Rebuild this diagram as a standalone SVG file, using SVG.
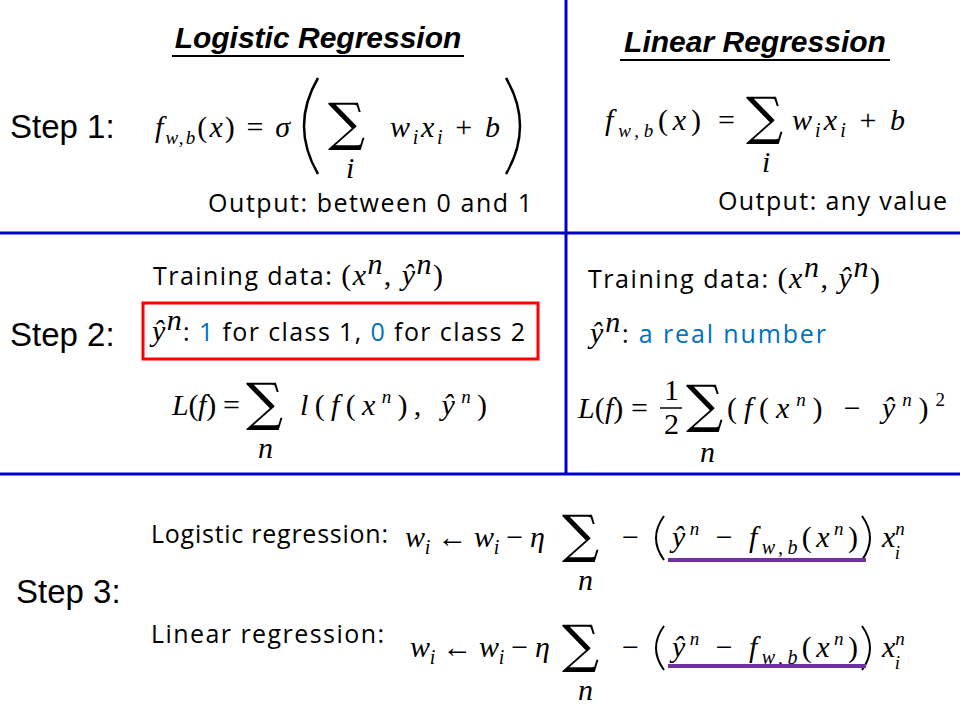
<svg xmlns="http://www.w3.org/2000/svg" width="960" height="720" viewBox="0 0 960 720">
<style>
.s{font-family:"Liberation Sans",Arial,sans-serif;font-size:33px;fill:#000}
.t{font-family:"Open Sans","Liberation Sans",sans-serif;font-size:25px;fill:#000}
.h{font-family:"Liberation Sans",Arial,sans-serif;font-size:30px;font-weight:bold;font-style:italic;fill:#000}
.m{font-family:"Liberation Serif","Times New Roman",serif;font-size:30px;font-style:italic;fill:#000}
.mu{font-family:"Liberation Serif","Times New Roman",serif;font-size:30px;fill:#000}
.sig{font-family:"DejaVu Serif",serif;font-size:52px;fill:#000}
.b{fill:#0070c0}
.ln{stroke:#0000cc;stroke-width:3}
.ul{stroke:#7030a0;stroke-width:4}
</style>
<g id="connectors">
<line class="ln" x1="566" y1="0" x2="566" y2="474"/>
<line class="ln" x1="0" y1="233" x2="960" y2="233"/>
<line class="ln" x1="0" y1="474" x2="960" y2="474"/>
</g>
<g id="headers">
<text class="h" x="318" y="48" text-anchor="middle">Logistic Regression</text>
<line x1="172" y1="56" x2="464" y2="56" stroke="#000" stroke-width="2"/>
<text class="h" x="755" y="52" text-anchor="middle">Linear Regression</text>
<line x1="620" y1="60" x2="890" y2="60" stroke="#000" stroke-width="2"/>
</g>
<g id="step1">
<text class="s" x="10" y="138">Step 1:</text>
<text class="m" x="155" y="137" textLength="135" lengthAdjust="spacing">f<tspan font-size="19" dy="7">w,b</tspan><tspan dy="-7" font-style="normal">(</tspan>x<tspan font-style="normal">) = </tspan>σ</text>
<path d="M318,78 Q290,126 318,174" fill="none" stroke="#000" stroke-width="2.5"/>
<text class="sig" x="328" y="140">∑</text>
<text class="m" x="346" y="178" font-size="24">i</text>
<text class="m" x="390" y="137" textLength="110" lengthAdjust="spacing">w<tspan font-size="20" dy="7">i</tspan><tspan dy="-7">x</tspan><tspan font-size="20" dy="7">i</tspan><tspan dy="-7" font-style="normal"> + </tspan>b</text>
<path d="M506,78 Q534,126 506,174" fill="none" stroke="#000" stroke-width="2.5"/>
<text class="t" x="208" y="212" textLength="324" lengthAdjust="spacing">Output: between 0 and 1</text>
<text class="m" x="605" y="130" textLength="130" lengthAdjust="spacing">f<tspan font-size="19" dy="7">w,b</tspan><tspan dy="-7" font-style="normal">(</tspan>x<tspan font-style="normal">) =</tspan></text>
<text class="sig" x="746" y="134">∑</text>
<text class="m" x="762" y="172" font-size="24">i</text>
<text class="m" x="792" y="130" textLength="113" lengthAdjust="spacing">w<tspan font-size="20" dy="7">i</tspan><tspan dy="-7">x</tspan><tspan font-size="20" dy="7">i</tspan><tspan dy="-7" font-style="normal"> + </tspan>b</text>
<text class="t" x="718" y="210" textLength="229" lengthAdjust="spacing">Output: any value</text>
</g>
<g id="step2">
<text class="s" x="10" y="346">Step 2:</text>
<text class="t" x="153" y="285" textLength="290" lengthAdjust="spacing">Training data: <tspan class="mu" font-size="28">(</tspan><tspan class="m" font-size="28">x</tspan><tspan class="m" font-size="18" dy="-11">n</tspan><tspan class="mu" font-size="28" dy="11">, </tspan><tspan class="m" font-size="28">ŷ</tspan><tspan class="m" font-size="18" dy="-11">n</tspan><tspan class="mu" font-size="28" dy="11">)</tspan></text>
<rect x="143" y="303" width="395" height="56" fill="none" stroke="#ff0000" stroke-width="3"/>
<text class="t" x="152" y="341" textLength="373" lengthAdjust="spacing"><tspan class="m" font-size="28">ŷ</tspan><tspan class="m" font-size="18" dy="-11">n</tspan><tspan dy="11">: </tspan><tspan class="b">1</tspan> for class 1, <tspan class="b">0</tspan> for class 2</text>
<text class="m" x="172" y="415" textLength="68" lengthAdjust="spacing">L<tspan font-style="normal">(</tspan>f<tspan font-style="normal">) =</tspan></text>
<text class="sig" x="246" y="420">∑</text>
<text class="m" x="258" y="458" font-size="24">n</text>
<text class="m" x="300" y="415" textLength="187" lengthAdjust="spacing">l<tspan font-style="normal">(</tspan>f<tspan font-style="normal">(</tspan>x<tspan font-size="19" dy="-12">n</tspan><tspan font-style="normal" dy="12">), </tspan>ŷ<tspan font-size="19" dy="-12">n</tspan><tspan font-style="normal" dy="12">)</tspan></text>
<text class="t" x="588" y="288" textLength="292" lengthAdjust="spacing">Training data: <tspan class="mu" font-size="28">(</tspan><tspan class="m" font-size="28">x</tspan><tspan class="m" font-size="18" dy="-11">n</tspan><tspan class="mu" font-size="28" dy="11">, </tspan><tspan class="m" font-size="28">ŷ</tspan><tspan class="m" font-size="18" dy="-11">n</tspan><tspan class="mu" font-size="28" dy="11">)</tspan></text>
<text class="t" x="590" y="343" textLength="236" lengthAdjust="spacing"><tspan class="m" font-size="28">ŷ</tspan><tspan class="m" font-size="18" dy="-11">n</tspan><tspan dy="11">: </tspan><tspan class="b">a real number</tspan></text>
<text class="m" x="578" y="418" textLength="70" lengthAdjust="spacing">L<tspan font-style="normal">(</tspan>f<tspan font-style="normal">) =</tspan></text>
<text class="mu" x="664" y="400" font-size="25">1</text>
<line x1="660" y1="408" x2="682" y2="408" stroke="#000" stroke-width="1.5"/>
<text class="mu" x="664" y="434" font-size="25">2</text>
<text class="sig" x="686" y="422">∑</text>
<text class="m" x="700" y="462" font-size="24">n</text>
<text class="m" x="727" y="418" textLength="218" lengthAdjust="spacing"><tspan font-style="normal">(</tspan>f<tspan font-style="normal">(</tspan>x<tspan font-size="19" dy="-12">n</tspan><tspan font-style="normal" dy="12">) − </tspan>ŷ<tspan font-size="19" dy="-12">n</tspan><tspan font-style="normal" dy="12">)</tspan><tspan font-style="normal" font-size="19" dy="-12">2</tspan></text>
</g>
<g id="step3">
<text class="s" x="16" y="603">Step 3:</text>
<text class="t" x="151" y="543" textLength="237" lengthAdjust="spacing">Logistic regression:</text>
<text class="m" x="405" y="547" textLength="140" lengthAdjust="spacing">w<tspan font-size="20" dy="7">i</tspan><tspan dy="-7" font-style="normal"> ← </tspan>w<tspan font-size="20" dy="7">i</tspan><tspan dy="-7" font-style="normal"> − </tspan>η</text>
<text class="sig" x="562" y="552">∑</text>
<text class="m" x="578" y="590" font-size="24">n</text>
<text class="mu" x="622" y="547">−</text>
<path d="M664,516 Q648,538 664,560" fill="none" stroke="#000" stroke-width="2"/>
<text class="m" x="672" y="547" textLength="186" lengthAdjust="spacing">ŷ<tspan font-size="19" dy="-12">n</tspan><tspan font-style="normal" dy="12"> − </tspan>f<tspan font-size="20" dy="7">w,b</tspan><tspan dy="-7" font-style="normal">(</tspan>x<tspan font-size="19" dy="-12">n</tspan><tspan font-style="normal" dy="12">)</tspan></text>
<path d="M862,516 Q878,538 862,560" fill="none" stroke="#000" stroke-width="2"/>
<text class="m" x="882" y="547">x<tspan font-size="19" dy="-12">n</tspan><tspan font-size="19" dx="-10" dy="24">i</tspan></text>
<line class="ul" x1="668" y1="560" x2="866" y2="560"/>
<text class="t" x="151" y="643" textLength="233" lengthAdjust="spacing">Linear regression:</text>
<text class="m" x="410" y="657" textLength="140" lengthAdjust="spacing">w<tspan font-size="20" dy="7">i</tspan><tspan dy="-7" font-style="normal"> ← </tspan>w<tspan font-size="20" dy="7">i</tspan><tspan dy="-7" font-style="normal"> − </tspan>η</text>
<text class="sig" x="562" y="662">∑</text>
<text class="m" x="578" y="700" font-size="24">n</text>
<text class="mu" x="622" y="657">−</text>
<path d="M664,626 Q648,648 664,670" fill="none" stroke="#000" stroke-width="2"/>
<text class="m" x="672" y="657" textLength="186" lengthAdjust="spacing">ŷ<tspan font-size="19" dy="-12">n</tspan><tspan font-style="normal" dy="12"> − </tspan>f<tspan font-size="20" dy="7">w,b</tspan><tspan dy="-7" font-style="normal">(</tspan>x<tspan font-size="19" dy="-12">n</tspan><tspan font-style="normal" dy="12">)</tspan></text>
<path d="M862,626 Q878,648 862,670" fill="none" stroke="#000" stroke-width="2"/>
<text class="m" x="882" y="657">x<tspan font-size="19" dy="-12">n</tspan><tspan font-size="19" dx="-10" dy="24">i</tspan></text>
<line class="ul" x1="668" y1="666" x2="866" y2="666"/>
</g>
</svg>
